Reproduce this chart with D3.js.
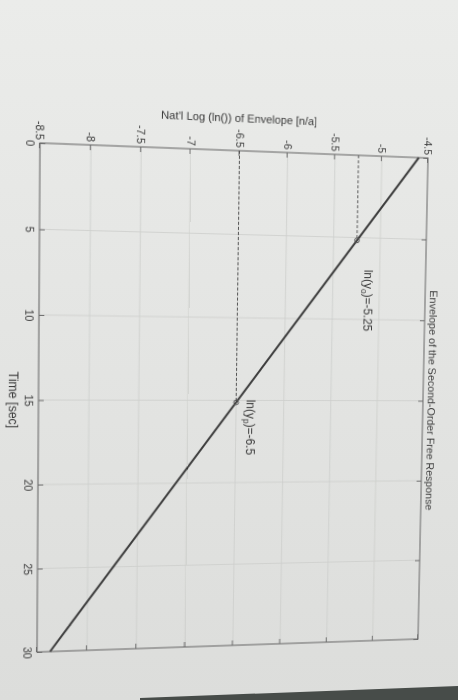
<!DOCTYPE html>
<html>
<head>
<meta charset="utf-8">
<script src="https://cdn.jsdelivr.net/npm/d3@7"></script>
<style>
html, body { margin: 0; padding: 0; width: 458px; height: 700px; overflow: hidden; background: #e5e6e4; }
#bg { position: absolute; left: 0; top: 0; }
#chart { position: absolute; left: 0; top: 0; overflow: visible; transform-origin: 0 0; }
text { font-family: "Liberation Sans", Arial, sans-serif; fill: #3b3b3b; }
</style>
</head>
<body>
<svg id="bg" width="458" height="700"></svg>
<svg id="chart"></svg>
<script>
// values
const timeTicks = [0, 5, 10, 15, 20, 25, 30];
const envTicks = [-8.5, -8, -7.5, -7, -6.5, -6, -5.5, -5, -4.5];
const lineTime = [0, 30];
const lineLnEnv = [-4.6, -8.37];
const markTime = [5.17, 15.12];
const markLnEnv = [-5.25, -6.5];
const noteTime = [6.95, 14.95];
const noteLnEnv = [-5.12, -6.35];
const noteSub = ["o", "p"];
const noteValue = ["-5.25", "-6.5"];

const W = 495, H = 385;

// page background (photo of a printed sheet)
let bg = d3.select("#bg");
let grad = bg.append("defs").append("linearGradient")
    .attr("id", "paper").attr("x1", 0).attr("y1", 0).attr("x2", 0).attr("y2", 1);
grad.append("stop").attr("offset", 0).attr("stop-color", "#ebecea");
grad.append("stop").attr("offset", 1).attr("stop-color", "#dcdddb");
bg.append("rect").attr("width", 458).attr("height", 700).attr("fill", "url(#paper)");
bg.append("polygon").attr("points", "140,698 458,686 458,700 140,700").attr("fill", "#474c49");

// plot drawn upright, then bent onto the photographed sheet
let svg = d3.select("#chart").attr("width", W).attr("height", H);

function sheetTransform(q) {
    let [x0, y0] = q[0], [x1, y1] = q[1], [x2, y2] = q[2], [x3, y3] = q[3];
    let sx = x0 - x1 + x2 - x3, sy = y0 - y1 + y2 - y3;
    let dx1 = x1 - x2, dx2 = x3 - x2, dy1 = y1 - y2, dy2 = y3 - y2;
    let den = dx1 * dy2 - dx2 * dy1;
    let g = (sx * dy2 - dx2 * sy) / den;
    let h = (dx1 * sy - sx * dy1) / den;
    let a = x1 - x0 + g * x1, b = x3 - x0 + h * x3, c = x0;
    let d = y1 - y0 + g * y1, e = y3 - y0 + h * y3, f = y0;
    return `matrix3d(${a / W},${d / W},0,${g / W},${b / H},${e / H},0,${h / H},0,0,1,0,${c},${f},0,1)`;
}
svg.style("transform", sheetTransform([[428, 158], [418, 639], [37, 652], [40, 143]]));

let x = d3.scaleLinear().domain([0, 30]).range([0, W]);
let y = d3.scaleLinear().domain([-8.5, -4.5]).range([H, 0]);

// grid
svg.append("g").selectAll("line").data(timeTicks.slice(1, -1)).join("line")
    .attr("x1", d => x(d)).attr("x2", d => x(d)).attr("y1", 0).attr("y2", H)
    .attr("stroke", "#cdcecc").attr("stroke-width", 0.8);
svg.append("g").selectAll("line").data(envTicks.slice(1, -1)).join("line")
    .attr("x1", 0).attr("x2", W).attr("y1", d => y(d)).attr("y2", d => y(d))
    .attr("stroke", "#cdcecc").attr("stroke-width", 0.8);

// axes, ticks pointing inward on all four sides
function styleAxis(g) {
    g.select(".domain").remove();
    g.selectAll(".tick line").attr("stroke", "#6e6e6e");
    g.selectAll(".tick text").attr("font-size", 10.5).attr("fill", "#3b3b3b")
        .attr("font-family", "Liberation Sans, Arial, sans-serif");
}
svg.append("g").attr("transform", `translate(0,${H})`)
    .call(d3.axisBottom(x).tickValues(timeTicks).tickSize(-5).tickPadding(6).tickFormat(d => String(d)))
    .call(styleAxis);
svg.append("g")
    .call(d3.axisTop(x).tickValues(timeTicks).tickSize(-5).tickFormat(""))
    .call(styleAxis);
svg.append("g")
    .call(d3.axisLeft(y).tickValues(envTicks).tickSize(-5).tickPadding(3).tickFormat(d => String(d)))
    .call(styleAxis);
svg.append("g").attr("transform", `translate(${W},0)`)
    .call(d3.axisRight(y).tickValues(envTicks).tickSize(-5).tickFormat(""))
    .call(styleAxis);

svg.append("rect").attr("width", W).attr("height", H)
    .attr("fill", "none").attr("stroke", "#6e6e6e").attr("stroke-width", 1.1);

// dashed guides from the time axis start to each marked point
svg.append("g").selectAll("line").data(markTime).join("line")
    .attr("x1", 0).attr("x2", (d, i) => x(d))
    .attr("y1", (d, i) => y(markLnEnv[i])).attr("y2", (d, i) => y(markLnEnv[i]))
    .attr("stroke", "#555").attr("stroke-width", 1).attr("stroke-dasharray", "3,2");

// envelope line
let pts = lineTime.map((t, i) => [x(t), y(lineLnEnv[i])]);
svg.append("path").attr("d", d3.line()(pts))
    .attr("fill", "none").attr("stroke", "#3c3c3c").attr("stroke-width", 2);

svg.append("g").selectAll("circle").data(markTime).join("circle")
    .attr("cx", d => x(d)).attr("cy", (d, i) => y(markLnEnv[i])).attr("r", 2.4)
    .attr("fill", "none").attr("stroke", "#555").attr("stroke-width", 1);

// annotations
let notes = svg.append("g").selectAll("text").data(noteTime).join("text")
    .attr("x", d => x(d)).attr("y", (d, i) => y(noteLnEnv[i])).attr("dy", "0.35em")
    .attr("font-size", 12);
notes.append("tspan").text("ln(y");
notes.append("tspan").attr("dy", 3).attr("font-size", 8.5).text((d, i) => noteSub[i]);
notes.append("tspan").attr("dy", -3).text((d, i) => ")=" + noteValue[i]);

// labels
svg.append("text").attr("x", W / 2).attr("y", -5).attr("text-anchor", "middle")
    .attr("font-size", 11).text("Envelope of the Second-Order Free Response");
svg.append("text").attr("x", W / 2).attr("y", H + 28).attr("text-anchor", "middle")
    .attr("font-size", 12).text("Time [sec]");
svg.append("text").attr("transform", `translate(-32,${H / 2}) rotate(-90)`)
    .attr("dy", "0.35em").attr("text-anchor", "middle")
    .attr("font-size", 11).text("Nat'l Log (ln()) of Envelope [n/a]");
</script>
</body>
</html>
